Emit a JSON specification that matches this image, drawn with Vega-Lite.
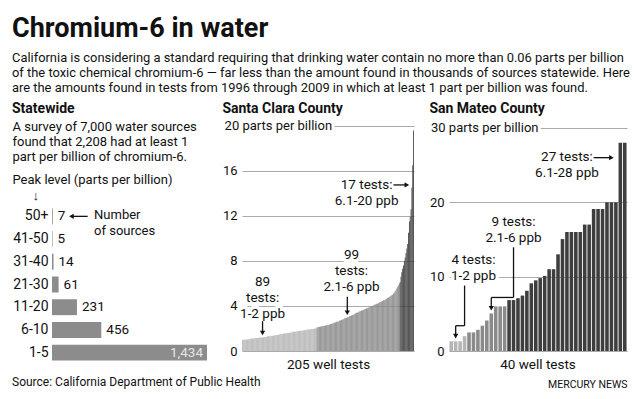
{
  "$schema": "https://vega.github.io/schema/vega-lite/v6.json",
  "background": "white",
  "padding": {"left": 12, "top": 15, "right": 4, "bottom": 2},
  "datasets": {
    "one": [{}],
    "statewide": [
      {"level": "50+", "count": 7},
      {"level": "41-50", "count": 5},
      {"level": "31-40", "count": 14},
      {"level": "21-30", "count": 61},
      {"level": "11-20", "count": 231},
      {"level": "6-10", "count": 456},
      {"level": "1-5", "count": 1434}
    ],
    "santaclara": [
      {"test":1,"ppb":1.0,"range":"low"},{"test":2,"ppb":1.0,"range":"low"},{"test":3,"ppb":1.0,"range":"low"},{"test":4,"ppb":1.0,"range":"low"},{"test":5,"ppb":1.0,"range":"low"},
      {"test":6,"ppb":1.0,"range":"low"},{"test":7,"ppb":1.05,"range":"low"},{"test":8,"ppb":1.05,"range":"low"},{"test":9,"ppb":1.05,"range":"low"},{"test":10,"ppb":1.05,"range":"low"},
      {"test":11,"ppb":1.1,"range":"low"},{"test":12,"ppb":1.1,"range":"low"},{"test":13,"ppb":1.1,"range":"low"},{"test":14,"ppb":1.1,"range":"low"},{"test":15,"ppb":1.1,"range":"low"},
      {"test":16,"ppb":1.15,"range":"low"},{"test":17,"ppb":1.15,"range":"low"},{"test":18,"ppb":1.15,"range":"low"},{"test":19,"ppb":1.15,"range":"low"},{"test":20,"ppb":1.15,"range":"low"},
      {"test":21,"ppb":1.2,"range":"low"},{"test":22,"ppb":1.2,"range":"low"},{"test":23,"ppb":1.2,"range":"low"},{"test":24,"ppb":1.2,"range":"low"},{"test":25,"ppb":1.2,"range":"low"},
      {"test":26,"ppb":1.2,"range":"low"},{"test":27,"ppb":1.25,"range":"low"},{"test":28,"ppb":1.25,"range":"low"},{"test":29,"ppb":1.25,"range":"low"},{"test":30,"ppb":1.25,"range":"low"},
      {"test":31,"ppb":1.3,"range":"low"},{"test":32,"ppb":1.3,"range":"low"},{"test":33,"ppb":1.3,"range":"low"},{"test":34,"ppb":1.3,"range":"low"},{"test":35,"ppb":1.3,"range":"low"},
      {"test":36,"ppb":1.35,"range":"low"},{"test":37,"ppb":1.35,"range":"low"},{"test":38,"ppb":1.35,"range":"low"},{"test":39,"ppb":1.4,"range":"low"},{"test":40,"ppb":1.4,"range":"low"},
      {"test":41,"ppb":1.4,"range":"low"},{"test":42,"ppb":1.4,"range":"low"},{"test":43,"ppb":1.45,"range":"low"},{"test":44,"ppb":1.45,"range":"low"},{"test":45,"ppb":1.45,"range":"low"},
      {"test":46,"ppb":1.5,"range":"low"},{"test":47,"ppb":1.5,"range":"low"},{"test":48,"ppb":1.5,"range":"low"},{"test":49,"ppb":1.5,"range":"low"},{"test":50,"ppb":1.55,"range":"low"},
      {"test":51,"ppb":1.55,"range":"low"},{"test":52,"ppb":1.55,"range":"low"},{"test":53,"ppb":1.6,"range":"low"},{"test":54,"ppb":1.6,"range":"low"},{"test":55,"ppb":1.6,"range":"low"},
      {"test":56,"ppb":1.6,"range":"low"},{"test":57,"ppb":1.6,"range":"low"},{"test":58,"ppb":1.65,"range":"low"},{"test":59,"ppb":1.65,"range":"low"},{"test":60,"ppb":1.65,"range":"low"},
      {"test":61,"ppb":1.7,"range":"low"},{"test":62,"ppb":1.7,"range":"low"},{"test":63,"ppb":1.7,"range":"low"},{"test":64,"ppb":1.7,"range":"low"},{"test":65,"ppb":1.7,"range":"low"},
      {"test":66,"ppb":1.75,"range":"low"},{"test":67,"ppb":1.75,"range":"low"},{"test":68,"ppb":1.75,"range":"low"},{"test":69,"ppb":1.8,"range":"low"},{"test":70,"ppb":1.8,"range":"low"},
      {"test":71,"ppb":1.8,"range":"low"},{"test":72,"ppb":1.8,"range":"low"},{"test":73,"ppb":1.8,"range":"low"},{"test":74,"ppb":1.85,"range":"low"},{"test":75,"ppb":1.85,"range":"low"},
      {"test":76,"ppb":1.85,"range":"low"},{"test":77,"ppb":1.85,"range":"low"},{"test":78,"ppb":1.9,"range":"low"},{"test":79,"ppb":1.9,"range":"low"},{"test":80,"ppb":1.9,"range":"low"},
      {"test":81,"ppb":1.9,"range":"low"},{"test":82,"ppb":1.9,"range":"low"},{"test":83,"ppb":1.95,"range":"low"},{"test":84,"ppb":1.95,"range":"low"},{"test":85,"ppb":1.95,"range":"low"},
      {"test":86,"ppb":1.95,"range":"low"},{"test":87,"ppb":2.0,"range":"low"},{"test":88,"ppb":2.0,"range":"low"},{"test":89,"ppb":2.0,"range":"low"},
      {"test":90,"ppb":2.1,"range":"mid"},{"test":91,"ppb":2.1,"range":"mid"},{"test":92,"ppb":2.1,"range":"mid"},{"test":93,"ppb":2.15,"range":"mid"},{"test":94,"ppb":2.15,"range":"mid"},
      {"test":95,"ppb":2.2,"range":"mid"},{"test":96,"ppb":2.2,"range":"mid"},{"test":97,"ppb":2.2,"range":"mid"},{"test":98,"ppb":2.25,"range":"mid"},{"test":99,"ppb":2.25,"range":"mid"},
      {"test":100,"ppb":2.25,"range":"mid"},{"test":101,"ppb":2.3,"range":"mid"},{"test":102,"ppb":2.3,"range":"mid"},{"test":103,"ppb":2.3,"range":"mid"},{"test":104,"ppb":2.3,"range":"mid"},
      {"test":105,"ppb":2.35,"range":"mid"},{"test":106,"ppb":2.4,"range":"mid"},{"test":107,"ppb":2.4,"range":"mid"},{"test":108,"ppb":2.45,"range":"mid"},{"test":109,"ppb":2.45,"range":"mid"},
      {"test":110,"ppb":2.5,"range":"mid"},{"test":111,"ppb":2.5,"range":"mid"},{"test":112,"ppb":2.55,"range":"mid"},{"test":113,"ppb":2.6,"range":"mid"},{"test":114,"ppb":2.6,"range":"mid"},
      {"test":115,"ppb":2.6,"range":"mid"},{"test":116,"ppb":2.65,"range":"mid"},{"test":117,"ppb":2.7,"range":"mid"},{"test":118,"ppb":2.7,"range":"mid"},{"test":119,"ppb":2.75,"range":"mid"},
      {"test":120,"ppb":2.8,"range":"mid"},{"test":121,"ppb":2.8,"range":"mid"},{"test":122,"ppb":2.85,"range":"mid"},{"test":123,"ppb":2.9,"range":"mid"},{"test":124,"ppb":2.9,"range":"mid"},
      {"test":125,"ppb":2.95,"range":"mid"},{"test":126,"ppb":3.0,"range":"mid"},{"test":127,"ppb":3.0,"range":"mid"},{"test":128,"ppb":3.05,"range":"mid"},{"test":129,"ppb":3.1,"range":"mid"},
      {"test":130,"ppb":3.1,"range":"mid"},{"test":131,"ppb":3.15,"range":"mid"},{"test":132,"ppb":3.2,"range":"mid"},{"test":133,"ppb":3.2,"range":"mid"},{"test":134,"ppb":3.25,"range":"mid"},
      {"test":135,"ppb":3.3,"range":"mid"},{"test":136,"ppb":3.35,"range":"mid"},{"test":137,"ppb":3.4,"range":"mid"},{"test":138,"ppb":3.4,"range":"mid"},{"test":139,"ppb":3.45,"range":"mid"},
      {"test":140,"ppb":3.5,"range":"mid"},{"test":141,"ppb":3.5,"range":"mid"},{"test":142,"ppb":3.55,"range":"mid"},{"test":143,"ppb":3.6,"range":"mid"},{"test":144,"ppb":3.6,"range":"mid"},
      {"test":145,"ppb":3.65,"range":"mid"},{"test":146,"ppb":3.7,"range":"mid"},{"test":147,"ppb":3.7,"range":"mid"},{"test":148,"ppb":3.75,"range":"mid"},{"test":149,"ppb":3.8,"range":"mid"},
      {"test":150,"ppb":3.8,"range":"mid"},{"test":151,"ppb":3.85,"range":"mid"},{"test":152,"ppb":3.9,"range":"mid"},{"test":153,"ppb":3.9,"range":"mid"},{"test":154,"ppb":3.95,"range":"mid"},
      {"test":155,"ppb":4.0,"range":"mid"},{"test":156,"ppb":4.0,"range":"mid"},{"test":157,"ppb":4.05,"range":"mid"},{"test":158,"ppb":4.1,"range":"mid"},{"test":159,"ppb":4.1,"range":"mid"},
      {"test":160,"ppb":4.15,"range":"mid"},{"test":161,"ppb":4.2,"range":"mid"},{"test":162,"ppb":4.2,"range":"mid"},{"test":163,"ppb":4.25,"range":"mid"},{"test":164,"ppb":4.3,"range":"mid"},
      {"test":165,"ppb":4.35,"range":"mid"},{"test":166,"ppb":4.35,"range":"mid"},{"test":167,"ppb":4.4,"range":"mid"},{"test":168,"ppb":4.45,"range":"mid"},{"test":169,"ppb":4.5,"range":"mid"},
      {"test":170,"ppb":4.5,"range":"mid"},{"test":171,"ppb":4.55,"range":"mid"},{"test":172,"ppb":4.6,"range":"mid"},{"test":173,"ppb":4.65,"range":"mid"},{"test":174,"ppb":4.7,"range":"mid"},
      {"test":175,"ppb":4.75,"range":"mid"},{"test":176,"ppb":4.8,"range":"mid"},{"test":177,"ppb":4.85,"range":"mid"},{"test":178,"ppb":4.9,"range":"mid"},{"test":179,"ppb":4.95,"range":"mid"},
      {"test":180,"ppb":5.0,"range":"mid"},{"test":181,"ppb":5.1,"range":"mid"},{"test":182,"ppb":5.2,"range":"mid"},{"test":183,"ppb":5.3,"range":"mid"},{"test":184,"ppb":5.4,"range":"mid"},
      {"test":185,"ppb":5.55,"range":"mid"},{"test":186,"ppb":5.7,"range":"mid"},{"test":187,"ppb":5.85,"range":"mid"},{"test":188,"ppb":6.0,"range":"mid"},
      {"test":189,"ppb":6.1,"range":"high"},{"test":190,"ppb":6.6,"range":"high"},{"test":191,"ppb":7.0,"range":"high"},{"test":192,"ppb":7.3,"range":"high"},{"test":193,"ppb":7.6,"range":"high"},
      {"test":194,"ppb":8.0,"range":"high"},{"test":195,"ppb":8.3,"range":"high"},{"test":196,"ppb":8.7,"range":"high"},{"test":197,"ppb":9.1,"range":"high"},{"test":198,"ppb":9.5,"range":"high"},
      {"test":199,"ppb":10.5,"range":"high"},{"test":200,"ppb":11.5,"range":"high"},{"test":201,"ppb":11.9,"range":"high"},{"test":202,"ppb":12.6,"range":"high"},{"test":203,"ppb":14.5,"range":"high"},
      {"test":204,"ppb":16.5,"range":"high"},{"test":205,"ppb":19.6,"range":"high"}
    ],
    "sanmateo": [
      {"test":1,"ppb":1.3,"range":"low"},{"test":2,"ppb":1.3,"range":"low"},{"test":3,"ppb":1.3,"range":"low"},{"test":4,"ppb":2.0,"range":"low"},
      {"test":5,"ppb":2.5,"range":"mid"},{"test":6,"ppb":2.5,"range":"mid"},{"test":7,"ppb":2.85,"range":"mid"},{"test":8,"ppb":3.4,"range":"mid"},{"test":9,"ppb":4.1,"range":"mid"},
      {"test":10,"ppb":5.05,"range":"mid"},{"test":11,"ppb":6.0,"range":"mid"},{"test":12,"ppb":6.0,"range":"mid"},{"test":13,"ppb":6.0,"range":"mid"},
      {"test":14,"ppb":6.85,"range":"high"},{"test":15,"ppb":6.85,"range":"high"},{"test":16,"ppb":7.1,"range":"high"},{"test":17,"ppb":7.45,"range":"high"},{"test":18,"ppb":8.1,"range":"high"},
      {"test":19,"ppb":9.1,"range":"high"},{"test":20,"ppb":9.5,"range":"high"},{"test":21,"ppb":9.8,"range":"high"},{"test":22,"ppb":10.1,"range":"high"},{"test":23,"ppb":11.0,"range":"high"},
      {"test":24,"ppb":11.0,"range":"high"},{"test":25,"ppb":13.0,"range":"high"},{"test":26,"ppb":15.05,"range":"high"},{"test":27,"ppb":16.0,"range":"high"},{"test":28,"ppb":16.0,"range":"high"},
      {"test":29,"ppb":16.0,"range":"high"},{"test":30,"ppb":16.0,"range":"high"},{"test":31,"ppb":17.0,"range":"high"},{"test":32,"ppb":17.0,"range":"high"},{"test":33,"ppb":19.1,"range":"high"},
      {"test":34,"ppb":19.1,"range":"high"},{"test":35,"ppb":19.1,"range":"high"},{"test":36,"ppb":20.0,"range":"high"},{"test":37,"ppb":20.0,"range":"high"},{"test":38,"ppb":20.0,"range":"high"},
      {"test":39,"ppb":28.0,"range":"high"},{"test":40,"ppb":28.0,"range":"high"}
    ]
  },
  "title": {
    "text": "Chromium-6 in water",
    "subtitle": [
      "California is considering a standard requiring that drinking water contain no more than 0.06 parts per billion",
      "of the toxic chemical chromium-6 — far less than the amount found in thousands of sources statewide. Here",
      "are the amounts found in tests from 1996 through 2009 in which at least 1 part per billion was found."
    ],
    "anchor": "start",
    "fontSize": 27,
    "fontWeight": "bold",
    "subtitleFontSize": 12.9,
    "subtitleLineHeight": 14.9,
    "subtitlePadding": 9,
    "offset": 6
  },
  "vconcat": [
    {
      "title": {"text": "Source: California Department of Public Health", "orient": "bottom", "anchor": "start", "fontSize": 12, "fontWeight": "normal", "offset": -13},
      "spacing": 15,
      "hconcat": [
        {
          "width": 155,
          "height": 245,
          "title": {"text": "Statewide", "anchor": "start", "fontSize": 14, "offset": 3},
          "data": {"name": "statewide"},
          "encoding": {
            "y": {
              "field": "level",
              "type": "nominal",
              "sort": ["50+", "41-50", "31-40", "21-30", "11-20", "6-10", "1-5"],
              "scale": {"paddingInner": 0.3, "paddingOuter": 0.15, "range": [86, 245]},
              "axis": {
                "title": ["Peak level (parts per billion)", "⠀⠀↓"],
                "titleAngle": 0,
                "titleAlign": "left",
                "titleBaseline": "top",
                "titleX": -40,
                "titleY": 54,
                "titleLineHeight": 16,
                "titleFontWeight": "normal",
                "titleFontSize": 13,
                "labelFontSize": 14,
                "labelPadding": 4,
                "ticks": false,
                "domain": false
              }
            }
          },
          "layer": [
            {
              "mark": {"type": "bar", "color": "#8c8c8c"},
              "encoding": {
                "x": {
                  "field": "count", "type": "quantitative",
                  "scale": {"domain": [0, 1434], "nice": false},
                  "axis": {
                    "orient": "top", "labels": false, "ticks": false, "domain": false, "grid": false,
                    "title": ["A survey of 7,000 water sources", "found that 2,208 had at least 1", "part per billion of chromium-6."],
                    "titleAngle": 0, "titleAlign": "left", "titleBaseline": "top", "titleX": -40, "titleY": 1,
                    "titleLineHeight": 15.4, "titleFontSize": 13, "titleFontWeight": "normal"
                  }
                }
              }
            },
            {
              "transform": [{"filter": "datum.count < 1000"}],
              "mark": {"type": "text", "align": "left", "baseline": "middle", "dx": 5, "fontSize": 13.5},
              "encoding": {"x": {"field": "count", "type": "quantitative"}, "text": {"field": "count", "type": "quantitative", "format": ","}}
            },
            {
              "transform": [{"filter": "datum.count >= 1000"}],
              "mark": {"type": "text", "align": "right", "baseline": "middle", "dx": -4, "fontSize": 13.5, "color": "#e6e6e6"},
              "encoding": {"x": {"field": "count", "type": "quantitative"}, "text": {"field": "count", "type": "quantitative", "format": ","}}
            },
            {
              "transform": [{"filter": "datum.level == '50+'"}],
              "mark": {"type": "rule", "color": "#111", "strokeWidth": 1.3},
              "encoding": {"x": {"datum": 190}, "x2": {"datum": 330}}
            },
            {
              "transform": [{"filter": "datum.level == '50+'"}],
              "mark": {"type": "point", "shape": "triangle-left", "filled": true, "color": "#111", "size": 28, "opacity": 1},
              "encoding": {"x": {"datum": 180}}
            },
            {
              "transform": [{"filter": "datum.level == '50+'"}],
              "mark": {"type": "text", "text": "Number", "align": "left", "baseline": "middle", "fontSize": 13, "dy": -1},
              "encoding": {"x": {"datum": 389}}
            },
            {
              "transform": [{"filter": "datum.level == '50+'"}],
              "mark": {"type": "text", "text": "of sources", "align": "left", "baseline": "middle", "fontSize": 13, "dy": 15},
              "encoding": {"x": {"datum": 389}}
            }
          ]
        },
        {
          "width": 172,
          "height": 232,
          "title": {"text": "Santa Clara County", "anchor": "start", "fontSize": 14, "offset": 3},
          "layer": [
            {
              "data": {"name": "santaclara"},
              "mark": {"type": "bar"},
              "encoding": {
                "x": {
                  "field": "test", "type": "ordinal",
                  "scale": {"type": "band", "paddingInner": 0, "paddingOuter": 0},
                  "axis": {"title": "205 well tests", "labels": false, "ticks": false, "domain": false, "titleFontSize": 13.5, "titleFontWeight": "normal", "titlePadding": 6}
                },
                "y": {
                  "field": "ppb", "type": "quantitative",
                  "scale": {"domain": [0, 20.62], "nice": false},
                  "axis": {
                    "title": null,
                    "values": [0, 2, 4, 6, 8, 10, 12, 14, 16, 18, 20],
                    "labelExpr": "datum.value == 20 ? '' : datum.label",
                    "labelPadding": 5,
                    "labelFontSize": 13,
                    "ticks": false,
                    "domain": false,
                    "grid": true,
                    "gridColor": "#aaaaaa"
                  }
                },
                "color": {
                  "field": "range", "type": "nominal",
                  "scale": {"domain": ["low", "mid", "high"], "range": ["#b5b5b5", "#8a8a8a", "#3e3e3e"]},
                  "legend": null
                }
              }
            },
            {
              "data": {"name": "one"},
              "mark": {"type": "text", "text": "20 parts per billion", "align": "left", "baseline": "middle", "dx": -17.8, "fontSize": 13, "color": "white", "stroke": "white", "strokeWidth": 6, "strokeJoin": "round"},
              "encoding": {"x": {"datum": 1, "type": "ordinal"}, "y": {"datum": 20, "type": "quantitative"}}
            },
            {
              "data": {"name": "one"},
              "mark": {"type": "text", "text": "20 parts per billion", "align": "left", "baseline": "middle", "dx": -17.8, "fontSize": 13, "color": "#111"},
              "encoding": {"x": {"datum": 1, "type": "ordinal"}, "y": {"datum": 20, "type": "quantitative"}}
            },
            {
              "data": {"name": "one"},
              "mark": {"type": "text", "text": ["89", "tests:", "1-2 ppb"], "lineHeight": 16, "fontSize": 13.5, "align": "center", "baseline": "middle", "color": "white", "stroke": "white", "strokeWidth": 7, "strokeJoin": "round"},
              "encoding": {"x": {"datum": 25, "type": "ordinal"}, "y": {"datum": 6.16, "type": "quantitative"}}
            },
            {
              "data": {"name": "one"},
              "mark": {"type": "text", "text": ["89", "tests:", "1-2 ppb"], "lineHeight": 16, "fontSize": 13.5, "align": "center", "baseline": "middle", "color": "#111"},
              "encoding": {"x": {"datum": 25, "type": "ordinal"}, "y": {"datum": 6.16, "type": "quantitative"}}
            },
            {
              "data": {"name": "one"},
              "mark": {"type": "text", "text": ["99", "tests:", "2.1-6 ppb"], "lineHeight": 16, "fontSize": 13.5, "align": "center", "baseline": "middle", "color": "white", "stroke": "white", "strokeWidth": 7, "strokeJoin": "round"},
              "encoding": {"x": {"datum": 131, "type": "ordinal"}, "y": {"datum": 8.53, "type": "quantitative"}}
            },
            {
              "data": {"name": "one"},
              "mark": {"type": "text", "text": ["99", "tests:", "2.1-6 ppb"], "lineHeight": 16, "fontSize": 13.5, "align": "center", "baseline": "middle", "color": "#111"},
              "encoding": {"x": {"datum": 131, "type": "ordinal"}, "y": {"datum": 8.53, "type": "quantitative"}}
            },
            {
              "data": {"name": "one"},
              "mark": {"type": "text", "text": ["17 tests:", "6.1-20 ppb"], "lineHeight": 16.5, "fontSize": 13.5, "align": "center", "baseline": "middle", "color": "white", "stroke": "white", "strokeWidth": 7, "strokeJoin": "round"},
              "encoding": {"x": {"datum": 149, "type": "ordinal"}, "y": {"datum": 14.76, "type": "quantitative"}}
            },
            {
              "data": {"name": "one"},
              "mark": {"type": "text", "text": ["17 tests:", "6.1-20 ppb"], "lineHeight": 16.5, "fontSize": 13.5, "align": "center", "baseline": "middle", "color": "#111"},
              "encoding": {"x": {"datum": 149, "type": "ordinal"}, "y": {"datum": 14.76, "type": "quantitative"}}
            },
            {
              "data": {"name": "one"},
              "mark": {"type": "rule", "color": "#111", "strokeWidth": 1.3},
              "encoding": {"x": {"datum": 25, "type": "ordinal"}, "y": {"datum": 2.65, "type": "quantitative"}, "y2": {"datum": 1.7}}
            },
            {
              "data": {"name": "one"},
              "mark": {"type": "point", "shape": "triangle-down", "filled": true, "color": "#111", "size": 28, "opacity": 1},
              "encoding": {"x": {"datum": 25, "type": "ordinal"}, "y": {"datum": 1.6, "type": "quantitative"}}
            },
            {
              "data": {"name": "one"},
              "mark": {"type": "rule", "color": "#111", "strokeWidth": 1.3},
              "encoding": {"x": {"datum": 126, "type": "ordinal"}, "y": {"datum": 4.83, "type": "quantitative"}, "y2": {"datum": 3.5}}
            },
            {
              "data": {"name": "one"},
              "mark": {"type": "point", "shape": "triangle-down", "filled": true, "color": "#111", "size": 28, "opacity": 1},
              "encoding": {"x": {"datum": 126, "type": "ordinal"}, "y": {"datum": 3.4, "type": "quantitative"}}
            },
            {
              "data": {"name": "one"},
              "mark": {"type": "rule", "color": "#111", "strokeWidth": 1.3},
              "encoding": {"x": {"datum": 181, "type": "ordinal"}, "x2": {"datum": 196}, "y": {"datum": 14.76, "type": "quantitative"}}
            },
            {
              "data": {"name": "one"},
              "mark": {"type": "point", "shape": "triangle-right", "filled": true, "color": "#111", "size": 28, "opacity": 1},
              "encoding": {"x": {"datum": 197, "type": "ordinal"}, "y": {"datum": 14.76, "type": "quantitative"}}
            }
          ]
        },
        {
          "width": 178,
          "height": 232,
          "title": {"text": "San Mateo County", "anchor": "start", "fontSize": 14, "offset": 3},
          "layer": [
            {
              "data": {"name": "sanmateo"},
              "mark": {"type": "bar"},
              "encoding": {
                "x": {
                  "field": "test", "type": "ordinal",
                  "scale": {"type": "band", "paddingInner": 0.2, "paddingOuter": 0.1},
                  "axis": {
                    "title": "MERCURY NEWS", "titleAnchor": "end", "titleFontSize": 10.5, "titleFontWeight": "normal", "titlePadding": 9,
                    "labelExpr": "datum.value == 20 ? '40 well tests' : ''",
                    "labelAngle": 0, "labelOverlap": false, "labelBound": false, "labelFlush": false,
                    "labelFontSize": 13.5, "labelOffset": 2.2, "labelPadding": 6,
                    "ticks": false, "domain": false
                  }
                },
                "y": {
                  "field": "ppb", "type": "quantitative",
                  "scale": {"domain": [0, 31.2], "nice": false},
                  "axis": {
                    "title": null,
                    "values": [0, 5, 10, 15, 20, 25, 30],
                    "labelExpr": "datum.value == 30 ? '' : datum.label",
                    "labelPadding": 5,
                    "labelFontSize": 13,
                    "ticks": false,
                    "domain": false,
                    "grid": true,
                    "gridColor": "#aaaaaa"
                  }
                },
                "color": {
                  "field": "range", "type": "nominal",
                  "scale": {"domain": ["low", "mid", "high"], "range": ["#bdbdbd", "#9c9c9c", "#0a0a0a"]},
                  "legend": null
                }
              }
            },
            {
              "data": {"name": "one"},
              "mark": {"type": "text", "text": "30 parts per billion", "align": "left", "baseline": "middle", "dx": -20.2, "fontSize": 13, "color": "white", "stroke": "white", "strokeWidth": 6, "strokeJoin": "round"},
              "encoding": {"x": {"datum": 1, "type": "ordinal"}, "y": {"datum": 30, "type": "quantitative"}}
            },
            {
              "data": {"name": "one"},
              "mark": {"type": "text", "text": "30 parts per billion", "align": "left", "baseline": "middle", "dx": -20.2, "fontSize": 13, "color": "#111"},
              "encoding": {"x": {"datum": 1, "type": "ordinal"}, "y": {"datum": 30, "type": "quantitative"}}
            },
            {
              "data": {"name": "one"},
              "mark": {"type": "text", "text": ["27 tests:", "6.1-28 ppb"], "lineHeight": 15.5, "fontSize": 13.5, "align": "center", "baseline": "middle", "color": "white", "stroke": "white", "strokeWidth": 7, "strokeJoin": "round"},
              "encoding": {"x": {"datum": 27, "type": "ordinal"}, "y": {"datum": 26.05, "type": "quantitative"}}
            },
            {
              "data": {"name": "one"},
              "mark": {"type": "text", "text": ["27 tests:", "6.1-28 ppb"], "lineHeight": 15.5, "fontSize": 13.5, "align": "center", "baseline": "middle", "color": "#111"},
              "encoding": {"x": {"datum": 27, "type": "ordinal"}, "y": {"datum": 26.05, "type": "quantitative"}}
            },
            {
              "data": {"name": "one"},
              "mark": {"type": "text", "text": ["9 tests:", "2.1-6 ppb"], "lineHeight": 16.6, "fontSize": 13.5, "align": "center", "baseline": "middle", "color": "white", "stroke": "white", "strokeWidth": 7, "strokeJoin": "round"},
              "encoding": {"x": {"datum": 15, "type": "ordinal"}, "y": {"datum": 17.39, "type": "quantitative"}}
            },
            {
              "data": {"name": "one"},
              "mark": {"type": "text", "text": ["9 tests:", "2.1-6 ppb"], "lineHeight": 16.6, "fontSize": 13.5, "align": "center", "baseline": "middle", "color": "#111"},
              "encoding": {"x": {"datum": 15, "type": "ordinal"}, "y": {"datum": 17.39, "type": "quantitative"}}
            },
            {
              "data": {"name": "one"},
              "mark": {"type": "text", "text": ["4 tests:", "1-2 ppb"], "lineHeight": 16, "fontSize": 13.5, "align": "center", "baseline": "middle", "color": "white", "stroke": "white", "strokeWidth": 7, "strokeJoin": "round"},
              "encoding": {"x": {"datum": 6, "type": "ordinal"}, "y": {"datum": 12.24, "type": "quantitative"}}
            },
            {
              "data": {"name": "one"},
              "mark": {"type": "text", "text": ["4 tests:", "1-2 ppb"], "lineHeight": 16, "fontSize": 13.5, "align": "center", "baseline": "middle", "color": "#111"},
              "encoding": {"x": {"datum": 6, "type": "ordinal"}, "y": {"datum": 12.24, "type": "quantitative"}}
            },
            {
              "data": {"name": "one"},
              "mark": {"type": "rule", "color": "#111", "strokeWidth": 1.3},
              "encoding": {"x": {"datum": 33, "type": "ordinal"}, "x2": {"datum": 37}, "y": {"datum": 26, "type": "quantitative"}}
            },
            {
              "data": {"name": "one"},
              "mark": {"type": "point", "shape": "triangle-right", "filled": true, "color": "#111", "size": 28, "opacity": 1},
              "encoding": {"x": {"datum": 37, "type": "ordinal"}, "y": {"datum": 26, "type": "quantitative"}}
            },
            {
              "data": {"name": "one"},
              "mark": {"type": "rule", "color": "#111", "strokeWidth": 1.3},
              "encoding": {"x": {"datum": 15, "type": "ordinal"}, "y": {"datum": 13.95, "type": "quantitative"}, "y2": {"datum": 7.2}}
            },
            {
              "data": {"name": "one"},
              "mark": {"type": "rule", "color": "#111", "strokeWidth": 1.3},
              "encoding": {"x": {"datum": 15, "type": "ordinal"}, "x2": {"datum": 10}, "y": {"datum": 7.2, "type": "quantitative"}}
            },
            {
              "data": {"name": "one"},
              "mark": {"type": "rule", "color": "#111", "strokeWidth": 1.3},
              "encoding": {"x": {"datum": 10, "type": "ordinal"}, "y": {"datum": 7.2, "type": "quantitative"}, "y2": {"datum": 6.0}}
            },
            {
              "data": {"name": "one"},
              "mark": {"type": "point", "shape": "triangle-down", "filled": true, "color": "#111", "size": 28, "opacity": 1},
              "encoding": {"x": {"datum": 10, "type": "ordinal"}, "y": {"datum": 5.75, "type": "quantitative"}}
            },
            {
              "data": {"name": "one"},
              "mark": {"type": "rule", "color": "#111", "strokeWidth": 1.3},
              "encoding": {"x": {"datum": 4, "type": "ordinal"}, "y": {"datum": 8.8, "type": "quantitative"}, "y2": {"datum": 3.4}}
            },
            {
              "data": {"name": "one"},
              "mark": {"type": "rule", "color": "#111", "strokeWidth": 1.3},
              "encoding": {"x": {"datum": 4, "type": "ordinal"}, "x2": {"datum": 2}, "y": {"datum": 3.4, "type": "quantitative"}}
            },
            {
              "data": {"name": "one"},
              "mark": {"type": "rule", "color": "#111", "strokeWidth": 1.3},
              "encoding": {"x": {"datum": 2, "type": "ordinal"}, "y": {"datum": 3.4, "type": "quantitative"}, "y2": {"datum": 2.2}}
            },
            {
              "data": {"name": "one"},
              "mark": {"type": "point", "shape": "triangle-down", "filled": true, "color": "#111", "size": 28, "opacity": 1},
              "encoding": {"x": {"datum": 2, "type": "ordinal"}, "y": {"datum": 2.0, "type": "quantitative"}}
            }
          ]
        }
      ]
    }
  ],
  "config": {
    "font": "Roboto",
    "view": {"stroke": null},
    "title": {"color": "#111111", "subtitleColor": "#111111", "fontWeight": "bold"},
    "axis": {"labelColor": "#111111", "titleColor": "#111111"},
    "text": {"color": "#111111"}
  }
}
